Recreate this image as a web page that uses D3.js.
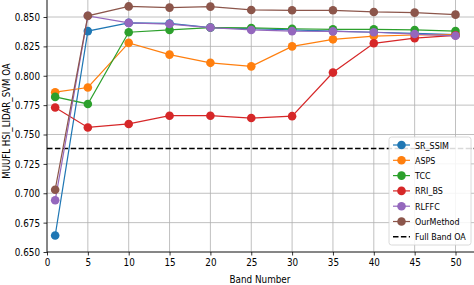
<!DOCTYPE html>
<html>
<head>
<meta charset="utf-8">
<script src="https://cdn.jsdelivr.net/npm/d3@7"></script>
<style>
  body { margin: 0; background: #fff; }
  svg { display: block; font-family: "DejaVu Sans", sans-serif; }
</style>
</head>
<body>
<svg id="chart" width="474" height="285"></svg>
<script>
const bands = [1, 5, 10, 15, 20, 25, 30, 35, 40, 45, 50];

const srSsim = [0.664, 0.838, 0.845, 0.8445, 0.841, 0.840, 0.839, 0.838, 0.837, 0.836, 0.835];
const asps = [0.786, 0.790, 0.828, 0.818, 0.811, 0.808, 0.825, 0.831, 0.8338, 0.8347, 0.835];
const tcc = [0.782, 0.776, 0.837, 0.839, 0.841, 0.8407, 0.840, 0.8395, 0.8395, 0.839, 0.838];
const rriBs = [0.773, 0.756, 0.759, 0.766, 0.766, 0.764, 0.7656, 0.8027, 0.8276, 0.832, 0.8344];
const rlffc = [0.694, 0.851, 0.845, 0.844, 0.841, 0.839, 0.838, 0.8378, 0.837, 0.8355, 0.834];
const ourMethod = [0.703, 0.851, 0.859, 0.858, 0.8588, 0.856, 0.8557, 0.8557, 0.8543, 0.8537, 0.852];

const fullBandOA = 0.738;

const seriesNames = ['SR_SSIM', 'ASPS', 'TCC', 'RRI_BS', 'RLFFC', 'OurMethod'];
const seriesValues = [srSsim, asps, tcc, rriBs, rlffc, ourMethod];
const colors = ['#1f77b4', '#ff7f0e', '#2ca02c', '#d62728', '#9467bd', '#8c564b'];

const xTicks = [0, 5, 10, 15, 20, 25, 30, 35, 40, 45, 50];
const yTicks = [0.650, 0.675, 0.700, 0.725, 0.750, 0.775, 0.800, 0.825, 0.850];

const svg = d3.select('#chart');

// the picture's text is a bit narrower than plain DejaVu
const squeeze = (sel, f) => sel.each(function() {
  const w = this.getComputedTextLength();
  d3.select(this).attr('textLength', w * f).attr('lengthAdjust', 'spacingAndGlyphs');
});

// plot box, top and right are cut off by the picture
const plotLeft = 47, plotBottom = 252, plotTop = 0, plotRight = 474;

const x = d3.scaleLinear().domain([0, 50]).range([47, 455.5]);
const y = d3.scaleLinear().domain([0.650, 0.850]).range([252, 17]);

// grid
svg.append('g')
  .selectAll('line')
  .data(xTicks)
  .join('line')
  .attr('x1', d => x(d)).attr('x2', d => x(d))
  .attr('y1', plotTop).attr('y2', plotBottom)
  .attr('stroke', '#b0b0b0')
  .attr('stroke-width', 0.8);

svg.append('g')
  .selectAll('line')
  .data(yTicks)
  .join('line')
  .attr('x1', plotLeft).attr('x2', plotRight)
  .attr('y1', d => y(d)).attr('y2', d => y(d))
  .attr('stroke', '#b0b0b0')
  .attr('stroke-width', 0.8);

// axes
const xAxis = d3.axisBottom(x).tickValues(xTicks).tickSize(3.5).tickPadding(3.5);
const yAxis = d3.axisLeft(y).tickValues(yTicks).tickFormat(d3.format('.3f')).tickSize(3.5).tickPadding(3.5);

const gx = svg.append('g').attr('transform', `translate(0,${plotBottom})`).call(xAxis);
const gy = svg.append('g').attr('transform', `translate(${plotLeft},0)`).call(yAxis);

[gx, gy].forEach(g => {
  g.select('.domain').remove();
  g.selectAll('text').attr('font-size', 10.5).attr('fill', '#000').attr('font-family', '"DejaVu Sans", sans-serif');
  g.selectAll('line').attr('stroke', '#000').attr('stroke-width', 0.8);
  squeeze(g.selectAll('text'), 0.84);
});

svg.append('line')
  .attr('x1', plotLeft).attr('x2', plotLeft).attr('y1', plotTop).attr('y2', plotBottom)
  .attr('stroke', '#000').attr('stroke-width', 0.8);
svg.append('line')
  .attr('x1', plotLeft).attr('x2', plotRight).attr('y1', plotBottom).attr('y2', plotBottom)
  .attr('stroke', '#000').attr('stroke-width', 0.8);

// axis labels
svg.append('text')
  .attr('x', 260).attr('y', 283)
  .attr('text-anchor', 'middle')
  .attr('font-size', 10.5)
  .text('Band Number')
  .call(squeeze, 0.84);

svg.append('text')
  .attr('transform', 'translate(10,121) rotate(-90)')
  .attr('text-anchor', 'middle')
  .attr('font-size', 10.5)
  .text('MUUFL HSI_LIDAR_SVM OA')
  .call(squeeze, 0.82);

// full band line
svg.append('line')
  .attr('x1', plotLeft).attr('x2', plotRight)
  .attr('y1', y(fullBandOA)).attr('y2', y(fullBandOA))
  .attr('stroke', '#000')
  .attr('stroke-width', 1.5)
  .attr('stroke-dasharray', '5.5,2.4');

// series
const line = d3.line()
  .x((d, i) => x(bands[i]))
  .y(d => y(d));

seriesValues.forEach((vals, k) => {
  const g = svg.append('g');
  g.append('path')
    .attr('d', line(vals))
    .attr('fill', 'none')
    .attr('stroke', colors[k])
    .attr('stroke-width', 1.2);
  g.selectAll('circle')
    .data(vals)
    .join('circle')
    .attr('cx', (d, i) => x(bands[i]))
    .attr('cy', d => y(d))
    .attr('r', 4.3)
    .attr('fill', colors[k]);
});

// legend
const legend = svg.append('g').attr('transform', 'translate(389,137)');
legend.append('rect')
  .attr('width', 82).attr('height', 108)
  .attr('rx', 2.5)
  .attr('fill', '#fff').attr('fill-opacity', 0.85)
  .attr('stroke', '#d0d0d0').attr('stroke-width', 0.8);

const legendItems = seriesNames.map((n, k) => ({ name: n, color: colors[k], dashed: false }));
legendItems.push({ name: 'Full Band OA', color: '#000', dashed: true });

legendItems.forEach((it, i) => {
  const cy = 8 + i * 15.3;
  legend.append('line')
    .attr('x1', 4).attr('x2', 21).attr('y1', cy).attr('y2', cy)
    .attr('stroke', it.color)
    .attr('stroke-width', it.dashed ? 1.5 : 1.2)
    .attr('stroke-dasharray', it.dashed ? '5.5,2.4' : null);
  if (!it.dashed) {
    legend.append('circle')
      .attr('cx', 12.5).attr('cy', cy).attr('r', 4.3)
      .attr('fill', it.color);
  }
  legend.append('text')
    .attr('x', 26).attr('y', cy + 3.5)
    .attr('font-size', 9.5)
    .text(it.name)
    .call(squeeze, 0.84);
});
</script>
</body>
</html>
